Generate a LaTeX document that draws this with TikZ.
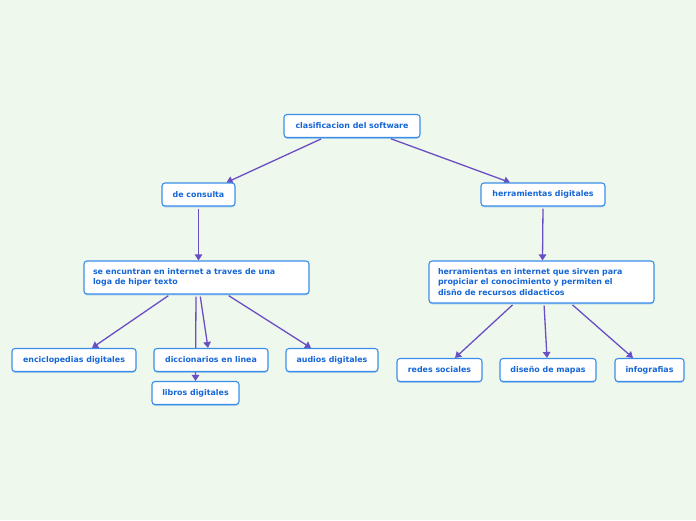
\documentclass[tikz,border=0pt]{standalone}
\usepackage{fontspec}
\setmainfont{DejaVu Sans}
\usetikzlibrary{positioning, arrows.meta, shadows}
\definecolor{fondo}{HTML}{EFF8EC}
\definecolor{borde}{HTML}{3B8EE8}
\definecolor{letra}{HTML}{1566D6}
\definecolor{flecha}{HTML}{6A4FC4}
\pgfdeclarelayer{background}
\pgfsetlayers{background,main}
\tikzset{
  caja/.style={draw=borde, fill=white, rounded corners=3pt, line width=1.1pt,
    text=letra, font=\fontsize{7.9}{10.5}\selectfont\bfseries,
    minimum height=23pt, inner xsep=9pt,
    drop shadow={shadow xshift=0pt, shadow yshift=-1.3pt, opacity=0.4, fill=borde}},
  cajalarga/.style={caja, align=left, text width=#1, inner ysep=5pt},
  flechita/.style={draw=flecha, line width=1.3pt, -{Triangle[length=6pt,width=7.5pt]}, shorten <=2pt}
}
\begin{document}
\begin{tikzpicture}[x=1pt,y=-1pt]
  % fondo del mapa
  \begin{pgfonlayer}{background}
    \fill[fondo] (0,0) rectangle (696,520);
  \end{pgfonlayer}
  \useasboundingbox (0,0) rectangle (696,520);

  % nodos principales
  \node[caja, minimum width=136pt] (clas) at (352,126) {clasificacion del software};
  \node[caja, minimum width=73pt] (cons) at (198.5,194.5) {de consulta};
  \node[caja, minimum width=124pt] (herr) at (543,194.5) {herramientas digitales};

  \node[cajalarga=207pt, minimum height=33pt] (enc) at (196.5,277.5) {se encuntran en internet a traves de una\\loga de hiper texto};
  \node[cajalarga=207pt, minimum height=42pt] (hint) at (541.5,282) {herramientas en internet que sirven para\\propiciar el conocimiento y permiten el\\disño de recursos didacticos};

  % hojas de la izquierda
  \node[caja, minimum width=124pt] (encic) at (74,360) {enciclopedias digitales};
  \node[caja, minimum width=114pt] (dicc) at (211,360) {diccionarios en linea};
  \node[caja, minimum width=92pt] (audio) at (332,360) {audios digitales};
  \node[caja, minimum width=87pt] (libro) at (195.5,393) {libros digitales};

  % hojas de la derecha
  \node[caja, minimum width=85pt] (redes) at (439.5,370) {redes sociales};
  \node[caja, minimum width=96pt] (mapas) at (548,370) {diseño de mapas};
  \node[caja, minimum width=69pt] (info) at (649.5,370) {infografias};

  \begin{pgfonlayer}{background}
    \draw[flechita] ([xshift=-29pt]clas.south) -- ([xshift=28pt]cons.north);
    \draw[flechita] ([xshift=37pt]clas.south) -- ([xshift=-33pt]herr.north);
    \draw[flechita] (cons.south) -- ([xshift=2pt]enc.north);
    \draw[flechita] (herr.south) -- ([xshift=1pt]hint.north);

    \draw[flechita] ([xshift=-26.5pt]enc.south) -- ([xshift=18pt]encic.north);
    \draw[flechita] ([xshift=-0.5pt]enc.south) -- (libro.north);
    \draw[flechita] ([xshift=3.5pt]enc.south) -- ([xshift=-3pt]dicc.north);
    \draw[flechita] ([xshift=30.5pt]enc.south) -- ([xshift=-21pt]audio.north);

    \draw[flechita] ([xshift=-27.5pt]hint.south) -- ([xshift=15.5pt]redes.north);
    \draw[flechita] ([xshift=2.5pt]hint.south) -- ([xshift=-1pt]mapas.north);
    \draw[flechita] ([xshift=29.5pt]hint.south) -- ([xshift=-16.5pt]info.north);
  \end{pgfonlayer}
\end{tikzpicture}
\end{document}
